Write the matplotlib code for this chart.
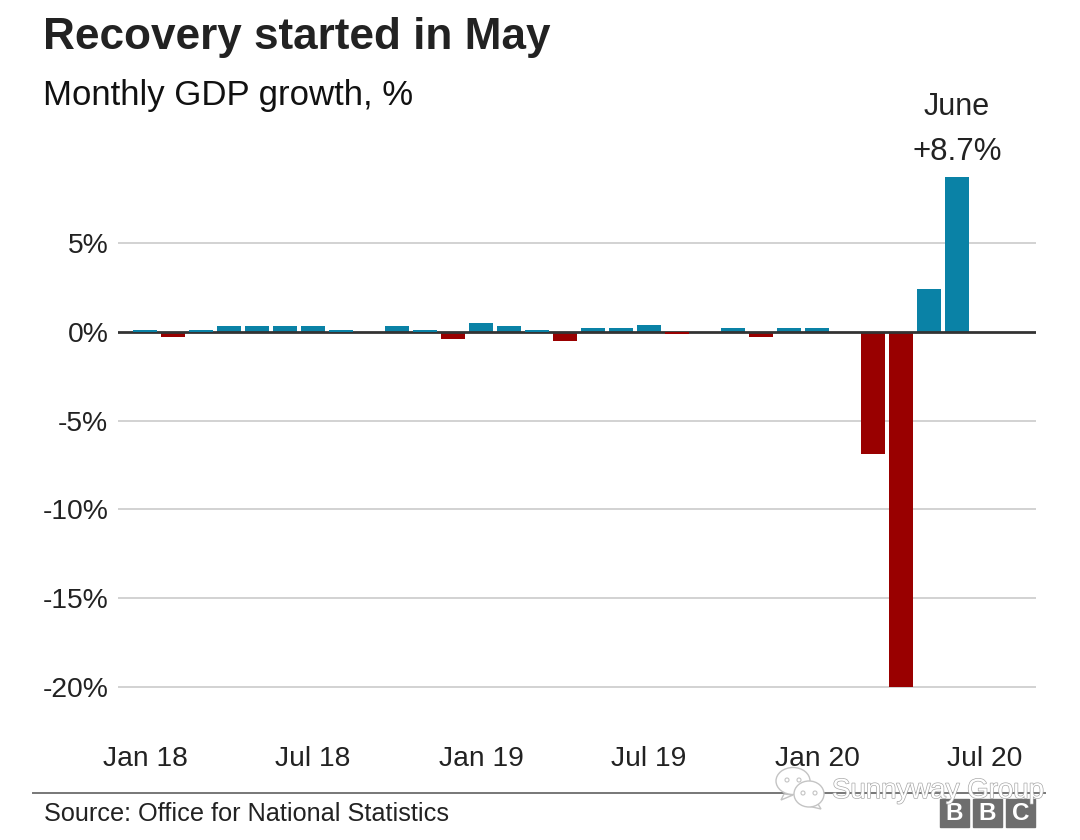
import matplotlib
matplotlib.use("Agg")
import matplotlib.pyplot as plt
import matplotlib.patheffects as pe
from matplotlib.patches import Ellipse, Rectangle, Polygon

plt.rcParams['font.family'] = ['Liberation Sans', 'DejaVu Sans']

W, H = 1080, 840

# Month index runs from Jan 18 (0) to Jun 20 (29)
months = list(range(30))
growth = [0.1, -0.3, 0.1, 0.3, 0.3, 0.3, 0.3, 0.1, 0.0, 0.3,
          0.1, -0.4, 0.5, 0.3, 0.1, -0.5, 0.2, 0.2, 0.4, -0.1,
          0.0, 0.2, -0.3, 0.2, 0.2, 0.0, -6.9, -20.0, 2.4, 8.7]
y_ticks = [5, 0, -5, -10, -15, -20]
y_labels = ['5%', '0%', '-5%', '-10%', '-15%', '-20%']
x_ticks = [0, 6, 12, 18, 24, 30]
x_labels = ['Jan 18', 'Jul 18', 'Jan 19', 'Jul 19', 'Jan 20', 'Jul 20']

TEAL = '#0a82a6'
RED = '#990000'
GRID = '#d2d2d2'
TEXT = '#222222'

fig = plt.figure(figsize=(W / 100, H / 100), dpi=100, facecolor='white')


def px_text(x, y, s, **kw):
    """Place text using pixel coordinates measured from the top left."""
    return fig.text(x / W, 1 - y / H, s, **kw)


# Plot area spans pixels x 118-1036, y 130-720
ax = fig.add_axes([118 / W, 1 - 720 / H, (1036 - 118) / W, (720 - 130) / H])
ax.set_xlim((118 - 145.0) / 28.0, (1036 - 145.0) / 28.0)
ax.set_ylim((331.8 - 720) / 17.77, (331.8 - 130) / 17.77)
ax.patch.set_alpha(0)

for v in y_ticks:
    if v != 0:
        ax.axhline(v, color=GRID, lw=1.4, zorder=1)

colors = [TEAL if v >= 0 else RED for v in growth]
ax.bar(months, growth, width=0.84, color=colors, zorder=2)
ax.axhline(0, color='#333333', lw=2.0, zorder=3)
# Very small bars stay visible on top of the baseline
ax.bar(months, [v if abs(v) <= 0.1 else 0 for v in growth], width=0.84,
       color=colors, zorder=4)

for s in ax.spines.values():
    s.set_visible(False)
ax.set_yticks(y_ticks, y_labels)
ax.set_xticks(x_ticks, x_labels)
ax.tick_params(axis='both', length=0, labelsize=20.3, labelcolor=TEXT)
ax.tick_params(axis='y', pad=7)
ax.tick_params(axis='x', pad=19)

# Peak annotation above the June 2020 bar
ax.annotate('June', xy=(29, 8.7), xytext=(0, 55), textcoords='offset pixels',
            ha='center', va='bottom', fontsize=22, color=TEXT)
ax.annotate('+8.7%', xy=(29, 8.7), xytext=(0, 10), textcoords='offset pixels',
            ha='center', va='bottom', fontsize=22.5, color=TEXT)

# Headline block
px_text(43, 38, 'Recovery started in May', fontsize=31.8, fontweight='bold',
        color='#222222', va='center', ha='left')
px_text(43, 96, 'Monthly GDP growth, %', fontsize=25, color='#111111',
        va='center', ha='left')

# Footer rule and source
overlay = fig.add_axes([0, 0, 1, 1], zorder=5)
overlay.set_xlim(0, W)
overlay.set_ylim(H, 0)
overlay.axis('off')
overlay.plot([33, 1045], [793, 793], color='#777777', lw=1.4)
px_text(44, 814, 'Source: Office for National Statistics', fontsize=18.2,
        color='#222222', va='center', ha='left', zorder=6)

# BBC blocks
for x0, letter in zip([940, 973, 1006], 'BBC'):
    overlay.add_patch(Rectangle((x0, 799), 28.5, 27.5, color='#6e6e6e', zorder=2))
    overlay.text(x0 + 14.3, 813, letter, color='white', fontsize=17.5,
                 fontweight='bold', ha='center', va='center', zorder=3)

# Chat-bubble mark and channel name overlaid on the footer
bubbles = [((793, 781), 34, 27, (784, 794), (781, 800), (793, 795)),
           ((809, 794), 30, 26, (818, 804), (821, 809), (808, 806))]
for (cx, cy), w, h, a, b, c in bubbles:
    overlay.add_patch(Polygon([a, b, c], facecolor='white', edgecolor='#c4c4c4',
                              lw=1.0, zorder=3))
    overlay.add_patch(Ellipse((cx, cy), w, h, facecolor='white',
                              edgecolor='#c4c4c4', lw=1.0, zorder=3))
    for dx in (-6, 6):
        overlay.add_patch(Ellipse((cx + dx, cy - 1), 4, 4, facecolor='white',
                                  edgecolor='#c4c4c4', lw=0.8, zorder=4))

overlay.text(832, 791, 'Sunnyway Group', fontsize=19.9, color='white',
             va='center', ha='left', zorder=5,
             path_effects=[pe.withStroke(linewidth=1.0, foreground='#a8a8a8')])

fig.savefig('out.png', dpi=100, facecolor='white')
